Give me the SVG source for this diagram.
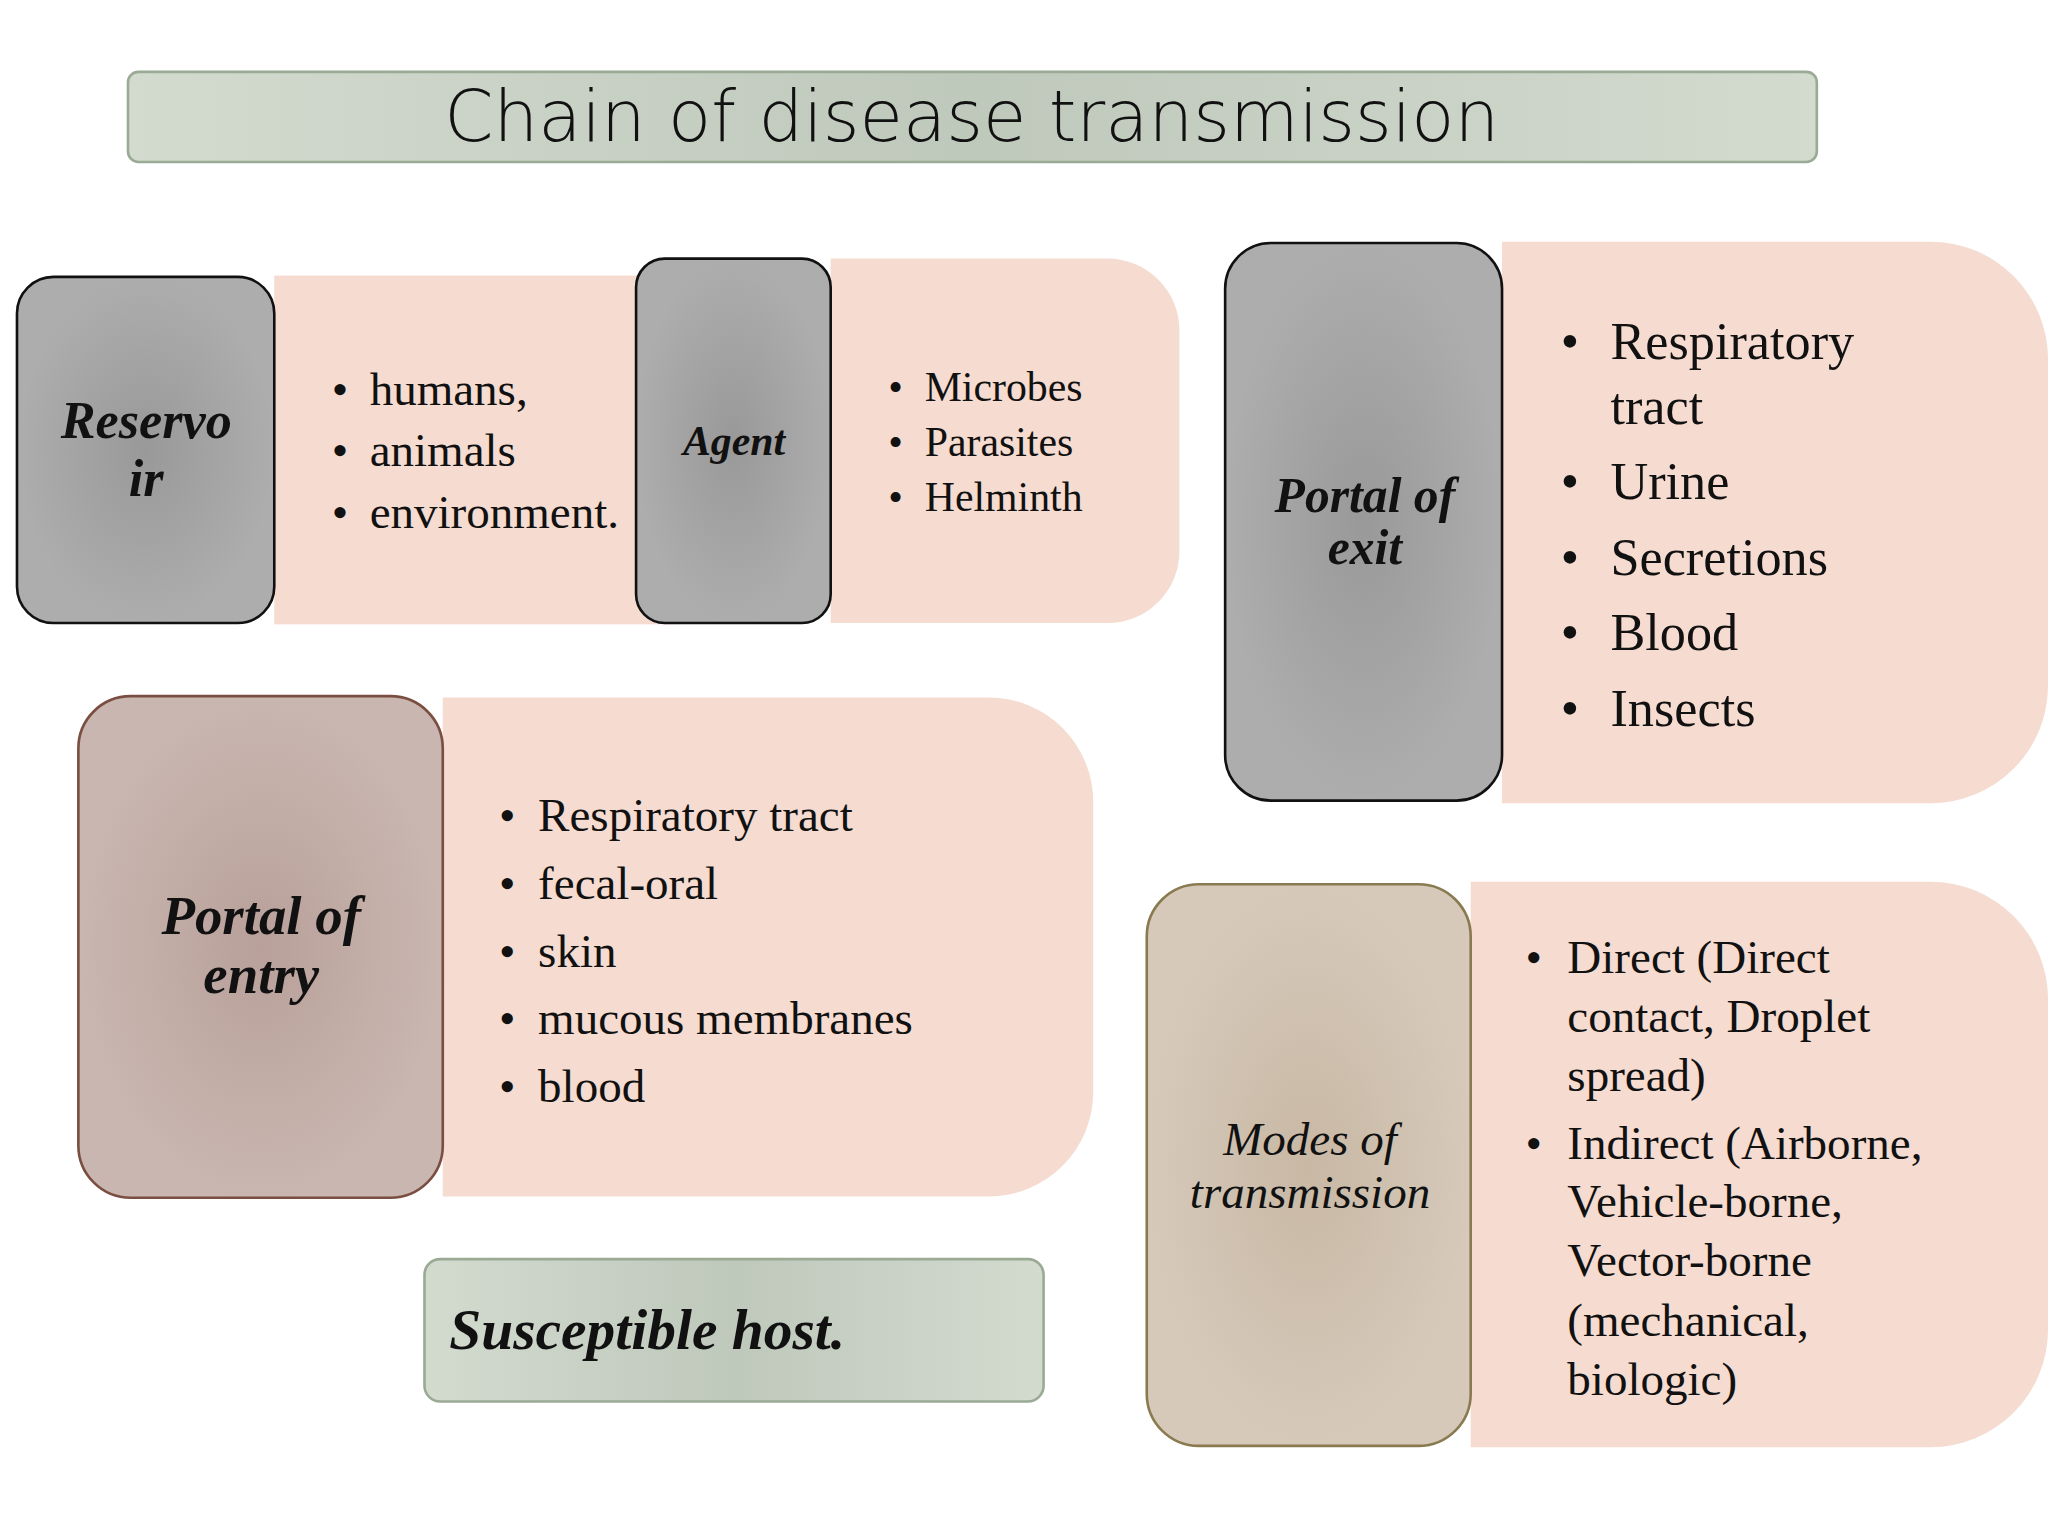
<svg xmlns="http://www.w3.org/2000/svg" width="2048" height="1536" viewBox="0 0 2048 1536">
<defs>
<linearGradient id="gg" x1="0" x2="1"><stop offset="0" stop-color="#d3dbcf"/><stop offset="0.5" stop-color="#bec8bb"/><stop offset="1" stop-color="#d3dbcf"/></linearGradient>
<radialGradient id="gray"><stop offset="0" stop-color="#999"/><stop offset="1" stop-color="#adadad"/></radialGradient>
<radialGradient id="rose"><stop offset="0" stop-color="#b9a09a"/><stop offset="1" stop-color="#c9b6b0"/></radialGradient>
<radialGradient id="tan"><stop offset="0" stop-color="#c8b8a4"/><stop offset="1" stop-color="#d6c9ba"/></radialGradient>
<style>
.pink{fill:#f5dbd0}
.t{font-family:"Liberation Serif",serif;fill:#111}
.h{font-family:"Liberation Serif",serif;font-weight:bold;font-style:italic;text-anchor:middle;fill:#111}
</style>
</defs>
<rect width="2048" height="1536" fill="#fff"/>
<g transform="scale(1.30612)">
<g id="title"><rect x="98" y="55" width="1293" height="69" rx="8" fill="url(#gg)" stroke="#9aaa95" stroke-width="2"/>
<text x="744" y="108" text-anchor="middle" font-family="DejaVu Sans,sans-serif" font-size="54" fill="#111" font-weight="300">Chain of disease transmission</text></g>

<g id="reservoir"><rect class="pink" x="210" y="211" width="310" height="267"/>
<rect x="13" y="212" width="197" height="265" rx="28" fill="url(#gray)" stroke="#111" stroke-width="2"/>
<text class="h" font-size="40"><tspan x="112" y="335">Reservo</tspan><tspan x="112" y="380">ir</tspan></text>
<text class="t" font-size="36"><tspan x="254" y="310">•</tspan><tspan x="283" y="310">humans,</tspan><tspan x="254" y="357">•</tspan><tspan x="283" y="357">animals</tspan><tspan x="254" y="404">•</tspan><tspan x="283" y="404">environment.</tspan></text></g>

<g id="agent"><path class="pink" d="M636 198H848A55 55 0 0 1 903 253V422A55 55 0 0 1 848 477H636Z"/>
<rect x="487" y="198" width="149" height="279" rx="22" fill="url(#gray)" stroke="#111" stroke-width="2"/>
<text class="h" font-size="32" x="562" y="348">Agent</text>
<text class="t" font-size="32"><tspan x="680" y="307">•</tspan><tspan x="708" y="307">Microbes</tspan><tspan x="680" y="349">•</tspan><tspan x="708" y="349">Parasites</tspan><tspan x="680" y="391">•</tspan><tspan x="708" y="391">Helminth</tspan></text></g>

<g id="exit"><path class="pink" d="M1150 185H1478A90 90 0 0 1 1568 275V525A90 90 0 0 1 1478 615H1150Z"/>
<rect x="938" y="186" width="212" height="427" rx="35" fill="url(#gray)" stroke="#111" stroke-width="2"/>
<text class="h" font-size="38"><tspan x="1045" y="392">Portal of</tspan><tspan x="1045" y="432">exit</tspan></text>
<text class="t" font-size="40"><tspan x="1195" y="275">•</tspan><tspan x="1233" y="275">Respiratory</tspan><tspan x="1233" y="325">tract</tspan><tspan x="1195" y="382">•</tspan><tspan x="1233" y="382">Urine</tspan><tspan x="1195" y="440">•</tspan><tspan x="1233" y="440">Secretions</tspan><tspan x="1195" y="498">•</tspan><tspan x="1233" y="498">Blood</tspan><tspan x="1195" y="556">•</tspan><tspan x="1233" y="556">Insects</tspan></text></g>

<g id="entry"><path class="pink" d="M339 534H757A80 80 0 0 1 837 614V836A80 80 0 0 1 757 916H339Z"/>
<rect x="60" y="533" width="279" height="384" rx="40" fill="url(#rose)" stroke="#7a4e40" stroke-width="2"/>
<text class="h" font-size="42"><tspan x="200" y="715">Portal of</tspan><tspan x="200" y="760">entry</tspan></text>
<text class="t" font-size="36"><tspan x="382" y="636">•</tspan><tspan x="412" y="636">Respiratory tract</tspan><tspan x="382" y="688">•</tspan><tspan x="412" y="688">fecal-oral</tspan><tspan x="382" y="740">•</tspan><tspan x="412" y="740">skin</tspan><tspan x="382" y="792">•</tspan><tspan x="412" y="792">mucous membranes</tspan><tspan x="382" y="844">•</tspan><tspan x="412" y="844">blood</tspan></text></g>

<g id="modes"><path class="pink" d="M1126 675H1478A90 90 0 0 1 1568 765V1018A90 90 0 0 1 1478 1108H1126Z"/>
<rect x="878" y="677" width="248" height="430" rx="40" fill="url(#tan)" stroke="#8a7a50" stroke-width="2"/>
<text class="t" font-size="36" font-style="italic" text-anchor="middle"><tspan x="1003" y="884">Modes of</tspan><tspan x="1003" y="925">transmission</tspan></text>
<text class="t" font-size="36"><tspan x="1168" y="745">•</tspan><tspan x="1200" y="745">Direct (Direct</tspan><tspan x="1200" y="790">contact, Droplet</tspan><tspan x="1200" y="835">spread)</tspan><tspan x="1168" y="887">•</tspan><tspan x="1200" y="887">Indirect (Airborne,</tspan><tspan x="1200" y="932">Vehicle-borne,</tspan><tspan x="1200" y="977">Vector-borne</tspan><tspan x="1200" y="1023">(mechanical,</tspan><tspan x="1200" y="1068">biologic)</tspan></text></g>

<g id="host"><rect x="325" y="964" width="474" height="109" rx="12" fill="url(#gg)" stroke="#9aaa95" stroke-width="2"/>
<text class="t" font-size="44" font-weight="bold" font-style="italic" x="344" y="1033">Susceptible host.</text></g>
<g id="connectors"/>
</g>
</svg>
